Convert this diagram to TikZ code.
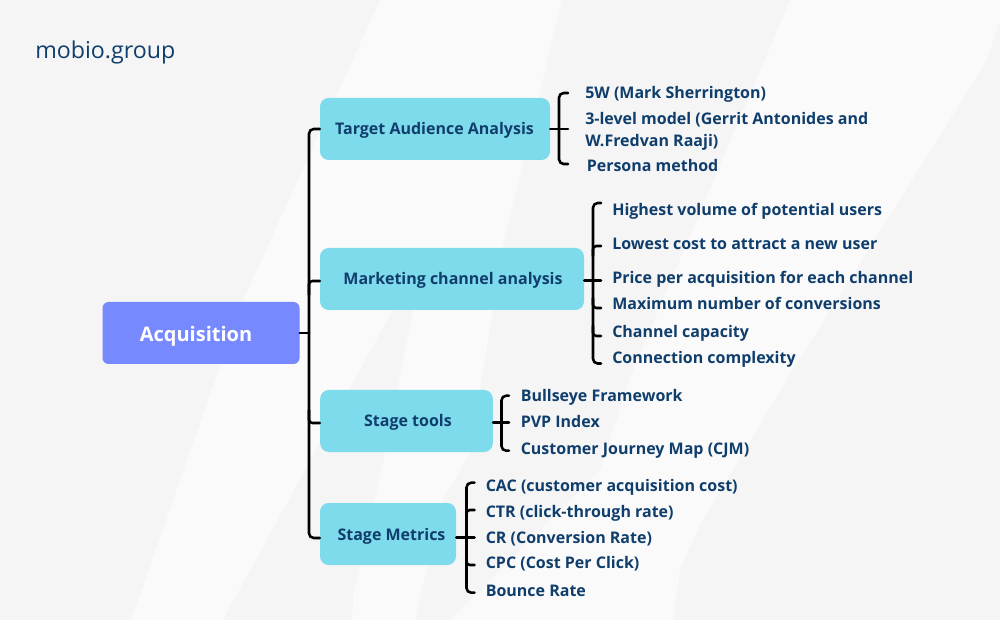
\documentclass[tikz,border=0pt]{standalone}
\usepackage{fontspec}
\setmainfont{Open Sans}
\definecolor{bgdark}{HTML}{F5F5F5}
\definecolor{bglight}{HTML}{FAFAFA}
\definecolor{navy}{HTML}{103E6C}
\definecolor{cyanbox}{HTML}{7EDBEB}
\definecolor{violetbox}{HTML}{7689FF}
\newcommand{\shifted}[3]{\hspace*{#1}\raisebox{#2}[0pt][0pt]{#3}}
\tikzset{
  x=0.75pt,y=-0.75pt,
  box/.style={fill=cyanbox,rounded corners=6.5pt,inner sep=0pt,minimum height=46.5pt,text=navy,font=\fontsize{12}{14}\selectfont\bfseries},
  rootbox/.style={fill=violetbox,rounded corners=4.5pt,inner sep=0pt,minimum height=46.5pt,text=white,font=\fontsize{15}{18}\selectfont\bfseries},
  item/.style={anchor=base west,inner sep=0pt,yshift=-0.4pt,text=navy,align=left,font=\fontsize{12}{16.4}\selectfont\bfseries},
  link/.style={draw=black,line width=1.9pt,rounded corners=3.5pt,line cap=round},
  tick/.style={draw=black,line width=1.9pt,rounded corners=2.5pt,line cap=round},
  shade/.style={fill=bgdark,draw=none},
}
\begin{document}
\begin{tikzpicture}
\useasboundingbox (0,0) rectangle (1000,620);
\fill[bglight] (0,0) rectangle (1000,620);
\fill[shade] (0,0) -- (380,0) -- (243,300) -- (131,620) -- (0,620) -- cycle;
\fill[shade] (223,620) -- (393,310) -- (430,250) -- (413,310) -- (385,453) -- (353,597) -- (352,620) -- cycle;
\fill[shade] (562,0) -- (790,0) -- (633,370) -- (600,470) -- (450,620) -- (415,620) -- (443,500) -- (470,453) -- (503,247) -- cycle;
\fill[shade] (1000,20) -- (990,50) -- (983,67) -- (793,370) -- (700,525) -- (680,570) -- (673,620) -- (1000,620) -- cycle;

\node[text=navy,anchor=base west,inner sep=0pt,font=\fontsize{17.4}{20}\selectfont] (brand) at (35,59) {mobio.group};

\node[rootbox,minimum width=147.75pt] (root) at (201,333) {\shifted{-7.5pt}{-6.2pt}{Acquisition}};
\node[box,minimum width=172.5pt] (ta) at (435,129) {\shifted{-0.7pt}{-4pt}{Target Audience Analysis}};
\node[box,minimum width=198pt] (mc) at (452,279) {\shifted{1.5pt}{-3.9pt}{Marketing channel analysis}};
\node[box,minimum width=129.5pt] (st) at (406.5,421) {\shifted{2.25pt}{-4pt}{Stage tools}};
\node[box,minimum width=102pt] (sm) at (388,534) {\shifted{5.25pt}{-4.5pt}{Stage Metrics}};

\node[item] (t1) at (585,98.3) {5W (Mark Sherrington)};
\node[item,anchor=west] (t2) at (585,131) {3-level model (Gerrit Antonides and\\W.Fredvan Raaji)};
\node[item] (t3) at (586.5,171.3) {Persona method};
\node[item] (m1) at (612,214.5) {Highest volume of potential users};
\node[item] (m2) at (612,248.7) {Lowest cost to attract a new user};
\node[item] (m3) at (612,282.7) {Price per acquisition for each channel};
\node[item] (m4) at (612,308.7) {Maximum number of conversions};
\node[item] (m5) at (612,336.7) {Channel capacity};
\node[item] (m6) at (612,362.7) {Connection complexity};
\node[item] (s1) at (520.5,400.7) {Bullseye Framework};
\node[item] (s2) at (520.5,427.3) {PVP Index};
\node[item] (s3) at (520.5,454) {Customer Journey Map (CJM)};
\node[item] (k1) at (485.5,490.7) {CAC (customer acquisition cost)};
\node[item] (k2) at (485.5,516.7) {CTR (click-through rate)};
\node[item] (k3) at (485.5,543.3) {CR (Conversion Rate)};
\node[item] (k4) at (485.5,568.3) {CPC (Cost Per Click)};
\node[item] (k5) at (485.5,595.7) {Bounce Rate};

% root tree
\coordinate (rx) at (309,333);
\draw[link] (root.east) -- (rx);
\draw[link] (ta.west) -- (309,129) -- (309,538) -- (sm.west |- 0,538);
\draw[tick] (mc.west |- 0,281) -- (309,281) -- (309,295);
\draw[tick] (st.west |- 0,423) -- (309,423) -- (309,410);

% target audience bracket
\draw[link] (ta.east) -- (568,129);
\draw[link] (568,93) -- (559,93) -- (559,164) -- (568,164);
% marketing bracket
\draw[link] (601,203) -- (593,203) -- (593,363.5) -- (601,363.5);
\draw[link] (mc.east |- 0,280.7) -- (601,280.7);
\draw[tick] (601,246) -- (593,246) -- (593,256);
\draw[tick] (601,308) -- (593,308) -- (593,298);
\draw[tick] (601,336) -- (593,336) -- (593,326);
% tools bracket
\draw[link] (st.east |- 0,422.7) -- (509,422.7);
\draw[link] (509,395.7) -- (501.5,395.7) -- (501.5,450.7) -- (509,450.7);
% metrics bracket
\draw[link] (sm.east |- 0,537.7) -- (474.5,537.7);
\draw[link] (474.5,482.7) -- (466.5,482.7) -- (466.5,592.7) -- (474.5,592.7);
\draw[tick] (474.5,510) -- (466.5,510) -- (466.5,520);
\draw[tick] (474.5,565) -- (466.5,565) -- (466.5,555);
\end{tikzpicture}
\end{document}
